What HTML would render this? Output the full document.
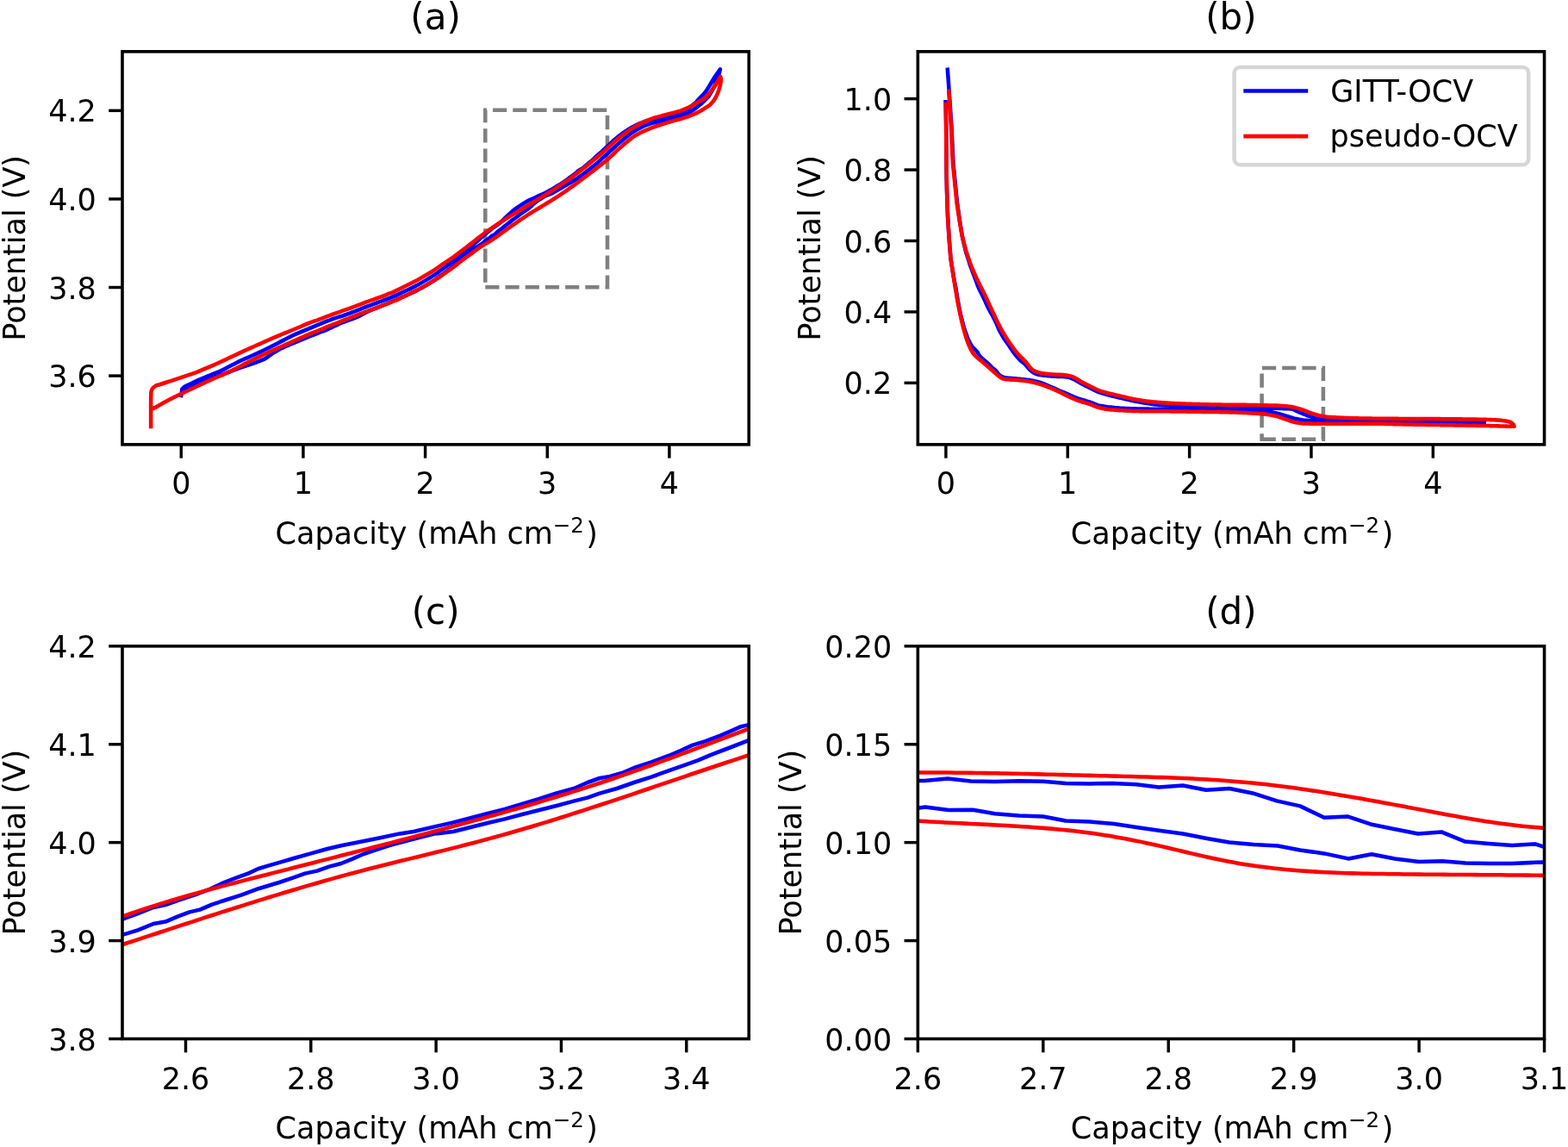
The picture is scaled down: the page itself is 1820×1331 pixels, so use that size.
<!DOCTYPE html>
<html lang="en"><head><meta charset="utf-8"><title>GITT-OCV vs pseudo-OCV</title>
<style>html,body{margin:0;padding:0;background:#fff;}body{width:1820px;height:1331px;overflow:hidden;}svg{display:block;}text{font-family:'DejaVu Sans', 'Liberation Sans', sans-serif;fill:#000;}</style>
</head><body>
<svg width="1820" height="1331" viewBox="0 0 1820 1331">
<rect x="0" y="0" width="1820" height="1331" fill="#ffffff"/>
<defs>
<clipPath id="clip-a"><rect x="142" y="59.85" width="727.25" height="456"/></clipPath>
<clipPath id="clip-b"><rect x="1065.35" y="59.85" width="727.2" height="456"/></clipPath>
<clipPath id="clip-c"><rect x="142" y="749.8" width="727.25" height="455.7"/></clipPath>
<clipPath id="clip-d"><rect x="1065.35" y="749.8" width="727.2" height="455.7"/></clipPath>
</defs>
<g clip-path="url(#clip-a)">
<path d="M563.3,333.3 L705,333.3 L705,127.75 L563.3,127.75 Z" fill="none" stroke="#808080" stroke-width="4.55" stroke-dasharray="16.2,7" stroke-linejoin="miter"/>
<polyline points="209.7,461.2 210.6,458 211,454 211.3,451.6 212.6,450.3 214.5,448.5 217.5,447.12 220.5,445.72 223.5,444.28 226.5,442.84 229.5,441.43 232.5,440.07 235.5,438.77 238.5,437.5 241.5,436.23 244.5,434.98 247.5,433.8 250.5,432.73 253.5,431.65 256.5,430.33 259.5,428.79 262.5,427.18 265.5,425.59 268.5,424.01 271.5,422.45 274.5,420.9 277.5,419.4 280.5,417.97 283.5,416.66 286.5,415.39 289.5,414.12 292.5,412.79 295.5,411.43 298.5,410.05 301.5,408.66 304.5,407.25 307.5,405.78 310.5,404.25 313.5,402.71 316.5,401.2 319.5,399.68 322.5,398.16 325.5,396.64 328.5,395.13 331.5,393.58 334.5,392.01 337.5,390.46 340.5,388.99 343.5,387.64 346.5,386.38 349.5,385.14 352.5,383.9 355.5,382.67 358.5,381.43 361.5,380.2 364.5,378.96 367.5,377.71 370.5,376.45 373.5,375.19 376.5,373.94 379.5,372.73 382.5,371.56 385.5,370.46 388.5,369.43 391.5,368.46 394.5,367.51 397.5,366.54 400.5,365.52 403.5,364.45 406.5,363.32 409.5,362.18 412.5,361.03 415.5,359.86 418.5,358.65 421.5,357.42 424.5,356.24 427.5,355.14 430.5,354.07 433.5,352.97 436.5,351.85 439.5,350.71 442.5,349.57 445.5,348.42 448.5,347.26 451.5,346.09 454.5,344.9 457.5,343.64 460.5,342.31 463.5,340.93 466.5,339.55 469.5,338.15 472.5,336.75 475.5,335.34 478.5,333.9 481.5,332.39 484.5,330.8 487.5,329.12 490.5,327.39 493.5,325.63 496.5,323.86 499.5,322.06 502.5,320.17 505.5,318.14 508.5,315.98 511.5,313.77 514.5,311.54 517.5,309.31 520.5,307.09 523.5,304.87 526.5,302.61 529.5,300.26 532.5,297.83 535.5,295.4 538.5,292.98 541.5,290.5 544.5,288.02 547.5,285.59 550.5,283.11 553.5,280.41 556.5,277.52 559.5,274.73 562.5,272.17 565.5,269.78 568.5,267.46 571.5,264.74 574.5,263.1 577.5,260.67 580.5,258.37 583.5,255.79 586.5,252.64 589.5,249.81 592.5,247.3 595.5,244.29 598.5,242.25 601.5,240.22 604.5,238.22 607.5,236.28 610.5,234.34 613.5,232.68 616.5,231.32 619.5,229.98 622.5,228.58 625.5,227.08 628.5,225.81 631.5,224.51 634.5,222.89 637.5,221.31 640.5,219.64 643.5,217.83 646.5,216.03 649.5,214.29 652.5,212.36 655.5,210.29 658.5,208.21 661.5,205.93 664.5,203.92 667.5,201.63 670.5,198.78 673.5,196.85 676.5,195.17 679.5,192.47 682.5,190.06 685.5,187.63 688.5,184.98 691.5,181.95 694.5,179.21 697.5,176.88 700.5,173.97 703.5,171.22 706.5,168.4 709.5,165.55 712.5,162.8 715.5,160.26 718.5,157.89 721.5,155.62 724.5,153.45 727.5,151.39 730.5,149.49 733.5,147.76 736.5,146.15 739.5,144.67 742.5,143.3 745.5,142.06 748.5,140.93 751.5,139.9 754.5,138.98 757.5,138.18 760.5,137.49 763.5,136.95 766.5,136.39 769.5,135.8 772.5,135.17 775.5,134.51 778.5,133.79 781.5,133.03 784.5,132.24 787.5,131.39 790.5,130.42 793.5,129.01 796.5,127.28 799.5,125.29 802.5,123.1 805.5,120.73 808.5,118.11 813.14,112.82 816.45,109.62 819.75,105.42 823.06,100.25 826.36,94.76 829.67,89.27 833,84.5 835.95,80.3 835.95,80.3 834.9,84.71 833.4,89.46 831.4,95.06 829,100.49 826,106.16 822.6,111.87 820,114.48 817,117.53 814,120.26 811,122.82 808,125.16 805,127.3 802,129.31 799,131.16 796,132.82 793,134.21 790,135.33 787,136.14 784,136.88 781,137.59 778,138.29 775,139.02 772,139.73 769,140.39 766,140.99 763,141.57 760,142.16 757,142.83 754,143.73 751,144.79 748,146.02 745,147.39 742,148.91 739,150.62 736,152.48 733,154.46 730,156.58 727,158.91 724,161.45 721,164.04 718,166.65 715,169.29 712,171.96 709,174.7 706,177.46 703,180.2 700,182.89 697,185.58 694,188.45 691,190.91 688,193.34 685,195.83 682,198.14 679,200.43 676,202.83 673,204.77 670,207.11 667,208.96 664,210.8 661,212.6 658,214.34 655,216.07 652,217.93 649,219.63 646,221.26 643,223 640,224.73 637,225.81 634,226.89 631,228.65 628,230.49 625,232.26 622,234.54 619,236.82 616,239.84 613,242.35 610,244.38 607,246.42 604,248.43 601,250.82 598,253 595,255.09 592,257.66 589,259.97 586,262.21 583,264.84 580,267 577,269.4 574,272.33 571,273.67 568,276.39 565,278.67 562,280.89 559,283.01 556,285.05 553,287.13 550,289.36 547,291.69 544,294.59 541,296.32 538,298.63 535,301.07 532,303.71 529,306.39 526,308.89 523,311.23 520,313.49 517,315.73 514,317.96 511,320.19 508,322.4 505,324.54 502,326.55 499,328.42 496,330.21 493,331.95 490,333.68 487,335.36 484,336.97 481,338.49 478,339.91 475,341.26 472,342.61 469,343.92 466,345.2 463,346.47 460,347.73 457,349 454,350.26 451,351.53 448,352.8 445,354.05 442,355.3 439,356.54 436,357.78 433,358.94 430,360.16 427,361.47 424,362.97 421,364.58 418,366.19 415,367.66 412,368.91 409,370.02 406,371.12 403,372.22 400,373.33 397,374.45 394,375.69 391,377.15 388,378.49 385,379.85 382,381.17 379,382.87 376,383.96 373,384.87 370,386.1 367,387.33 364,388.56 361,389.69 358,390.92 355,392.16 352,393.41 349,394.66 346,395.91 343,397.16 340,398.4 337,399.65 334,400.9 331,402.16 328,403.58 325,405.09 322,406.69 319,408.44 316,410.3 313,412.53 310,414.73 307,416.6 304,417.9 301,419.12 298,420.23 295,421.26 292,422.28 289,423.27 286,424.23 283,425.29 280,426.37 277,427.44 274,428.55 271,429.7 268,430.87 265,432.03 262,433.18 259,434.34 256,435.52 253,436.63 250,437.72 247,438.85 244,440.05 241,441.29 238,442.58 235,443.9 232,445.26 229,446.71 226,448.08 223,449.47 220,450.66 217,452 214,454 211.2,455.5" fill="none" stroke="#0000ff" stroke-width="4.55" stroke-linejoin="round" stroke-linecap="butt"/>
<polyline points="175.15,497.3 175.15,470 175.15,461.75 175.4,455.1 176.2,452.2 178.2,449.5 181.5,447.2 184.5,446.59 187.5,445.51 190.5,444.5 193.5,443.52 196.5,442.56 199.5,441.63 202.5,440.62 205.5,439.62 208.5,438.62 211.5,437.63 214.5,436.64 217.5,435.65 220.5,434.64 223.5,433.61 226.5,432.53 229.5,431.41 232.5,430.18 235.5,428.92 238.5,427.65 241.5,426.38 244.5,425.09 247.5,423.8 250.5,422.48 253.5,421.14 256.5,419.76 259.5,418.34 262.5,416.95 265.5,415.55 268.5,414.15 271.5,412.74 274.5,411.32 277.5,409.9 280.5,408.48 283.5,407.09 286.5,405.74 289.5,404.42 292.5,403.09 295.5,401.75 298.5,400.4 301.5,399.07 304.5,397.73 307.5,396.38 310.5,395.03 313.5,393.71 316.5,392.43 319.5,391.18 322.5,389.94 325.5,388.7 328.5,387.45 331.5,386.21 334.5,384.98 337.5,383.74 340.5,382.51 343.5,381.27 346.5,380.01 349.5,378.72 352.5,377.43 355.5,376.15 358.5,374.92 361.5,373.75 364.5,372.63 367.5,371.83 370.5,370.69 373.5,369.55 376.5,368.41 379.5,367.19 382.5,366.11 385.5,365 388.5,363.94 391.5,362.85 394.5,361.77 397.5,360.69 400.5,359.7 403.5,358.63 406.5,357.53 409.5,356.42 412.5,355.3 415.5,354.18 418.5,353.03 421.5,351.87 424.5,350.71 427.5,349.69 430.5,348.59 433.5,347.58 436.5,346.52 439.5,345.45 442.5,344.36 445.5,343.26 448.5,342.13 451.5,340.58 454.5,339.7 457.5,338.35 460.5,336.93 463.5,335.46 466.5,333.96 469.5,332.46 472.5,330.95 475.5,329.44 478.5,327.96 481.5,326.47 484.5,324.91 487.5,323.28 490.5,321.58 493.5,319.83 496.5,318.05 499.5,316.22 502.5,314.32 505.5,312.34 508.5,310.3 511.5,308.24 514.5,306.2 517.5,304.18 520.5,302.17 523.5,300.15 526.5,298.09 529.5,295.93 532.5,293.65 535.5,291.33 538.5,289.02 541.5,286.73 544.5,284.43 547.5,282.12 550.5,279.78 553.5,277.4 556.5,275.02 559.5,272.7 562.5,270.48 565.5,268.33 568.5,266.24 571.5,264.2 574.5,262.18 577.5,260.2 580.5,258.25 583.5,256.32 586.5,254.42 589.5,252.54 592.5,250.67 595.5,248.82 598.5,246.98 601.5,245.15 604.5,243.32 607.5,241.5 610.5,239.69 613.5,237.87 616.5,236.06 619.5,234.25 622.5,232.43 625.5,230.61 628.5,228.78 631.5,226.94 634.5,225.09 637.5,223.21 640.5,221.32 643.5,219.41 646.5,217.46 649.5,215.49 652.5,213.48 655.5,211.44 658.5,209.36 661.5,207.23 664.5,205.07 667.5,202.87 670.5,200.62 673.5,198.33 676.5,196.01 679.5,193.64 682.5,191.25 685.5,188.82 688.5,186.35 691.5,183.86 694.5,181.34 697.5,178.77 700.5,176.14 703.5,173.45 706.5,170.69 709.5,167.89 712.5,165.15 715.5,162.52 718.5,160.04 721.5,157.67 724.5,155.4 727.5,153.22 730.5,151.14 733.5,149.18 736.5,147.34 739.5,145.62 742.5,144.02 745.5,142.53 748.5,141.13 751.5,139.82 754.5,138.6 757.5,137.48 760.5,136.46 763.5,135.63 766.5,134.84 769.5,134.08 772.5,133.31 775.5,132.55 778.5,131.78 781.5,130.98 784.5,130.16 787.5,129.3 790.5,128.35 793.5,127.16 796.5,125.86 799.5,124.45 802.5,122.93 805.5,121.31 808.5,119.6 811.5,117.71 816.45,114.96 819.75,112.11 823.06,108.62 826.36,104.46 829.67,99.96 832.98,94.73 835.2,90.87 836.3,89 836.9,91.5 836.7,95.14 835.6,100.43 833.97,105.98 831.65,111.46 829,115.93 827,118.52 823.5,122.23 820,124.36 817,126.35 814,128.21 811,129.89 808,131.35 805,132.7 802,133.92 799,135.05 796,136.14 793,137.11 790,138.01 787,138.79 784,139.57 781,140.37 778,141.2 775,142.08 772,143.04 769,144.05 766,145.09 763,146.12 760,147.14 757,148.17 754,149.32 751,150.55 748,151.85 745,153.26 742,154.78 739,156.43 736,158.26 733,160.36 730,162.71 727,165.2 724,167.77 721,170.39 718,173.09 715,175.89 712,178.77 709,181.64 706,184.36 703,186.91 700,189.34 697,191.7 694,194.03 691,196.35 688,198.67 685,200.97 682,203.26 679,205.54 676,207.79 673,210.03 670,212.24 667,214.43 664,216.59 661,218.71 658,220.81 655,222.87 652,224.89 649,226.88 646,228.83 643,230.74 640,232.62 637,234.47 634,236.3 631,238.11 628,239.93 625,241.74 622,243.57 619,245.42 616,247.29 613,249.2 610,251.13 607,253.11 604,255.12 601,257.17 598,259.26 595,261.37 592,263.51 589,265.67 586,267.84 583,270.01 580,272.18 577,274.32 574,276.41 571,278.43 568,280.34 565,282.15 562,283.88 559,285.71 556,287.74 553,289.93 550,292.16 547,294.35 544,296.53 541,298.71 538,300.91 535,303.18 532,305.5 529,307.83 526,310.12 523,312.35 520,314.52 517,316.64 514,318.72 511,320.76 508,322.75 505,324.69 502,326.57 499,328.39 496,330.17 493,331.89 490,333.56 487,335.16 484,336.67 481,338.14 478,339.6 475,341.05 472,342.5 469,343.95 466,345.39 463,346.86 460,348.34 457,349.47 454,350.73 451,351.92 448,353.16 445,354.23 442,355.3 439,356.38 436,357.47 433,358.56 430,359.73 427,360.85 424,361.92 421,363.07 418,364.22 415,365.37 412,366.52 409,367.68 406,368.84 403,370 400,371.19 397,372.42 394,373.61 391,374.8 388,376 385,377.11 382,378.27 379,379.45 376,380.87 373,382.1 370,383.34 367,384.58 364,385.56 361,386.81 358,388.09 355,389.39 352,390.71 349,392.04 346,393.38 343,394.74 340,396.11 337,397.47 334,398.82 331,400.16 328,401.49 325,402.83 322,404.16 319,405.49 316,406.84 313,408.19 310,409.57 307,410.97 304,412.39 301,413.83 298,415.29 295,416.77 292,418.27 289,419.78 286,421.32 283,422.88 280,424.46 277,426.04 274,427.58 271,429.06 268,430.48 265,431.86 262,433.22 259,434.56 256,435.88 253,437.18 250,438.48 247,439.79 244,441.13 241,442.48 238,443.85 235,445.22 232,446.61 229,448.02 226,449.44 223,450.87 220,452.31 217,453.76 214,455.19 211,456.58 208,458 205,459.47 202,460.97 199,462.52 196,464.09 193,465.7 190,467.34 187,469 184,470.72 181,472.53 178.2,473.65 175.6,475.1" fill="none" stroke="#ff0000" stroke-width="4.55" stroke-linejoin="round" stroke-linecap="butt"/>
</g>
<line x1="210.3" y1="515.85" x2="210.3" y2="531.65" stroke="#000" stroke-width="3.45"/>
<text x="210.3" y="573.45" font-size="35" text-anchor="middle">0</text>
<line x1="351.95" y1="515.85" x2="351.95" y2="531.65" stroke="#000" stroke-width="3.45"/>
<text x="351.95" y="573.45" font-size="35" text-anchor="middle">1</text>
<line x1="493.6" y1="515.85" x2="493.6" y2="531.65" stroke="#000" stroke-width="3.45"/>
<text x="493.6" y="573.45" font-size="35" text-anchor="middle">2</text>
<line x1="635.25" y1="515.85" x2="635.25" y2="531.65" stroke="#000" stroke-width="3.45"/>
<text x="635.25" y="573.45" font-size="35" text-anchor="middle">3</text>
<line x1="776.9" y1="515.85" x2="776.9" y2="531.65" stroke="#000" stroke-width="3.45"/>
<text x="776.9" y="573.45" font-size="35" text-anchor="middle">4</text>
<line x1="126.2" y1="436.09" x2="142" y2="436.09" stroke="#000" stroke-width="3.45"/>
<text x="111.9" y="449.14" font-size="35" text-anchor="end">3.6</text>
<line x1="126.2" y1="333.51" x2="142" y2="333.51" stroke="#000" stroke-width="3.45"/>
<text x="111.9" y="346.56" font-size="35" text-anchor="end">3.8</text>
<line x1="126.2" y1="230.93" x2="142" y2="230.93" stroke="#000" stroke-width="3.45"/>
<text x="111.9" y="243.98" font-size="35" text-anchor="end">4.0</text>
<line x1="126.2" y1="128.35" x2="142" y2="128.35" stroke="#000" stroke-width="3.45"/>
<text x="111.9" y="141.4" font-size="35" text-anchor="end">4.2</text>
<rect x="142" y="59.85" width="727.25" height="456" fill="none" stroke="#000" stroke-width="3.6"/>
<text x="505.62" y="33.9" font-size="42" text-anchor="middle">(a)</text>
<text x="506.77" y="631.3" font-size="35" text-anchor="middle">Capacity (mAh cm<tspan font-size="24.5" dy="-13.4" dx="-0.3">−2</tspan><tspan dy="13.4" dx="2.6">)</tspan></text>
<text transform="translate(28.9,287.85) rotate(-90)" font-size="35" text-anchor="middle">Potential (V)</text>
<g clip-path="url(#clip-b)">
<path d="M1464.6,509.8 L1535.9,509.8 L1535.9,427 L1464.6,427 Z" fill="none" stroke="#808080" stroke-width="4.55" stroke-dasharray="16.2,7" stroke-linejoin="miter"/>
<polyline points="1097.5,116 1097.54,117.89 1097.58,119.78 1097.62,121.67 1097.66,123.56 1097.69,125.44 1097.73,127.33 1097.77,129.22 1097.81,131.11 1097.85,133 1097.89,134.89 1097.93,136.78 1097.97,138.67 1098.01,140.56 1098.04,142.44 1098.08,144.33 1098.12,146.22 1098.16,148.11 1098.19,150.01 1098.21,151.96 1098.23,153.91 1098.24,155.86 1098.25,157.82 1098.27,159.77 1098.28,161.73 1098.3,163.68 1098.31,165.64 1098.32,167.59 1098.34,169.55 1098.35,171.5 1098.36,173.45 1098.38,175.41 1098.39,177.36 1098.4,179.32 1098.42,181.27 1098.43,183.23 1098.45,185.18 1098.46,187.14 1098.47,189.09 1098.49,191.05 1098.5,192.99 1098.54,194.93 1098.57,196.86 1098.61,198.79 1098.64,200.71 1098.68,202.64 1098.71,204.57 1098.75,206.5 1098.79,208.43 1098.82,210.36 1098.86,212.29 1098.89,214.21 1098.93,216.14 1098.96,218.07 1099.01,219.99 1099.06,221.87 1099.12,223.75 1099.19,225.62 1099.25,227.5 1099.31,229.37 1099.38,231.25 1099.44,233.12 1099.5,235 1099.56,236.87 1099.62,238.75 1099.69,240.62 1099.75,242.5 1099.81,244.37 1099.87,246.25 1099.94,248.13 1100.01,250.01 1100.12,251.92 1100.23,253.85 1100.35,255.77 1100.46,257.69 1100.58,259.62 1100.69,261.54 1100.81,263.46 1100.92,265.38 1101.04,267.31 1101.15,269.23 1101.27,271.15 1101.38,273.08 1101.51,275 1101.65,276.92 1101.81,278.85 1101.96,280.77 1102.12,282.69 1102.27,284.62 1102.42,286.54 1102.58,288.46 1102.73,290.38 1102.88,292.31 1103.04,294.23 1103.19,296.15 1103.35,298.08 1103.53,300 1103.81,301.92 1104.12,303.83 1104.42,305.75 1104.73,307.67 1105.04,309.58 1105.35,311.5 1105.66,313.42 1105.97,315.33 1106.28,317.25 1106.58,319.17 1106.89,321.08 1107.2,322.95 1107.53,324.71 1107.86,326.43 1108.19,328.14 1108.51,329.86 1108.84,331.57 1109.17,333.29 1109.5,335.04 1109.81,336.88 1110.12,338.75 1110.44,340.62 1110.75,342.5 1111.06,344.38 1111.37,346.25 1111.69,348.12 1112.01,350 1112.38,351.88 1112.75,353.75 1113.12,355.62 1113.5,357.5 1113.87,359.37 1114.25,361.25 1114.63,363.12 1115.02,365 1115.48,366.87 1115.95,368.75 1116.42,370.62 1116.9,372.5 1117.38,374.37 1117.85,376.25 1118.33,378.12 1118.83,379.96 1119.4,381.71 1120,383.43 1120.6,385.14 1121.2,386.86 1121.8,388.57 1122.4,390.28 1123.01,391.91 1123.67,393.33 1124.33,394.67 1125.02,396.04 1125.75,397.5 1126.5,399 1127.26,400.5 1128.13,401.96 1129.34,403.33 1130.66,404.66 1131.93,405.93 1133,407 1134,408 1134.89,409.11 1135.5,410.5 1136.19,411.96 1137.34,413.33 1138.67,414.67 1140.04,415.98 1141.5,417.25 1143,418.5 1144.5,419.75 1145.93,420.99 1147.2,422.2 1148.4,423.4 1149.59,424.61 1150.77,425.83 1151.97,426.99 1153.22,427.96 1154.49,428.87 1155.69,429.88 1156.74,431.16 1157.74,432.53 1158.76,433.89 1159.88,435.12 1161.2,436 1162.55,436.73 1163.81,437.37 1165.18,437.91 1166.75,438.27 1168.41,438.47 1170.08,438.65 1171.77,438.81 1173.46,438.96 1175.13,439.1 1176.8,439.24 1178.47,439.39 1180.13,439.53 1181.79,439.68 1183.44,439.84 1185.11,440.01 1186.77,440.18 1188.44,440.34 1190.1,440.51 1191.74,440.7 1193.37,440.9 1195.03,441.12 1196.69,441.39 1198.36,441.72 1200.02,442.06 1201.65,442.4 1203.28,442.76 1204.93,443.15 1206.59,443.65 1208.27,444.26 1209.95,444.88 1211.6,445.5 1213.24,446.15 1214.91,446.82 1216.58,447.51 1218.25,448.24 1219.93,448.97 1221.6,449.7 1223.28,450.42 1224.93,451.15 1226.42,451.83 1227.76,452.48 1229.11,453.15 1230.6,453.8 1232.22,454.44 1233.85,455.09 1235.49,455.73 1237.13,456.38 1238.76,457.03 1240.43,457.74 1242.11,458.5 1243.77,459.25 1245.44,460 1247.11,460.75 1248.75,461.48 1250.25,462.07 1251.71,462.55 1253.47,463.09 1255.34,463.65 1257.21,464.21 1259.09,464.78 1260.96,465.34 1262.83,465.9 1264.65,466.47 1266.32,467.09 1267.97,467.74 1269.64,468.41 1271.3,469.07 1272.97,469.74 1274.67,470.34 1276.43,470.76 1278.12,471.06 1279.78,471.33 1281.45,471.61 1283.1,471.88 1284.7,472.12 1286.14,472.3 1287.75,472.46 1289.59,472.63 1291.47,472.81 1293.35,472.99 1295.22,473.16 1297.1,473.34 1298.98,473.51 1300.86,473.65 1302.75,473.74 1304.63,473.83 1306.5,473.93 1308.38,474.02 1310.25,474.11 1312.13,474.2 1314,474.29 1315.9,474.35 1317.79,474.39 1319.67,474.42 1321.55,474.46 1323.42,474.49 1325.3,474.53 1327.17,474.56 1329.05,474.59 1330.9,474.62 1332.73,474.64 1334.55,474.66 1336.36,474.68 1338.18,474.7 1340,474.71 1341.82,474.73 1343.64,474.75 1345.45,474.77 1347.27,474.79 1349.09,474.81 1350.9,474.83 1352.71,474.85 1354.53,474.87 1356.35,474.89 1358.17,474.91 1359.98,474.93 1361.8,474.96 1363.62,474.98 1365.44,475 1367.26,475.02 1369.08,475.04 1370.95,475.07 1372.87,475.1 1374.8,475.14 1376.73,475.17 1378.65,475.21 1380.58,475.24 1382.5,475.27 1384.43,475.31 1386.35,475.34 1388.28,475.38 1390.21,475.41 1392.14,475.45 1394.06,475.48 1395.99,475.51 1397.91,475.55 1399.84,475.58 1401.77,475.61 1403.69,475.64 1405.62,475.68 1407.54,475.71 1409.47,475.74 1411.4,475.78 1413.32,475.81 1415.25,475.84 1417.17,475.88 1419.1,475.91 1421.02,475.95 1422.91,475.99 1424.79,476.03 1426.66,476.02 1428.54,475.98 1430.42,475.93 1432.3,475.89 1434.18,475.85 1436.06,475.8 1437.93,475.77 1439.81,475.75 1441.69,475.79 1443.56,475.86 1445.44,475.94 1447.31,476.01 1449.19,476.09 1451.06,476.17 1452.91,476.26 1454.73,476.38 1456.55,476.5 1458.36,476.61 1460.18,476.73 1462,476.85 1463.82,476.97 1465.64,477.09 1467.45,477.2 1469.27,477.32 1471.08,477.45 1472.82,477.68 1474.5,478 1476.17,478.33 1477.83,478.67 1479.5,479 1481.17,479.34 1482.83,479.76 1484.5,480.25 1486.17,480.75 1487.83,481.25 1489.5,481.75 1491.17,482.25 1492.83,482.75 1494.5,483.25 1496.17,483.75 1497.83,484.25 1499.5,484.75 1501.17,485.24 1502.83,485.66 1504.5,486 1506.17,486.33 1507.83,486.67 1509.5,487 1511.18,487.32 1512.95,487.55 1514.81,487.69 1516.69,487.81 1518.56,487.94 1520.44,488.06 1522.31,488.19 1524.19,488.31 1526.06,488.43 1527.94,488.49 1529.81,488.5 1531.69,488.5 1533.56,488.5 1535.44,488.5 1537.31,488.5 1539.19,488.5 1541.07,488.5 1542.97,488.51 1544.91,488.51 1546.84,488.52 1548.78,488.53 1550.72,488.54 1552.66,488.55 1554.59,488.56 1556.53,488.57 1558.47,488.58 1560.41,488.59 1562.34,488.6 1564.28,488.61 1566.22,488.62 1568.16,488.63 1570.09,488.64 1572.03,488.65 1573.97,488.65 1575.91,488.66 1577.84,488.67 1579.78,488.68 1581.72,488.69 1583.66,488.7 1585.59,488.71 1587.53,488.72 1589.47,488.73 1591.41,488.74 1593.34,488.75 1595.28,488.76 1597.22,488.77 1599.16,488.78 1601.09,488.79 1603.03,488.8 1604.95,488.82 1606.86,488.86 1608.76,488.91 1610.67,488.95 1612.57,488.99 1614.48,489.04 1616.38,489.08 1618.29,489.12 1620.19,489.16 1622.1,489.21 1624,489.25 1625.9,489.29 1627.81,489.34 1629.71,489.38 1631.62,489.42 1633.52,489.46 1635.43,489.51 1637.33,489.55 1639.24,489.59 1641.14,489.64 1643.05,489.68 1644.95,489.7 1646.86,489.71 1648.76,489.72 1650.67,489.73 1652.57,489.74 1654.48,489.75 1656.38,489.76 1658.29,489.77 1660.19,489.78 1662.1,489.79 1664,489.8 1665.9,489.81 1667.81,489.82 1669.71,489.83 1671.62,489.84 1673.52,489.85 1675.43,489.86 1677.33,489.87 1679.24,489.88 1681.14,489.89 1683.05,489.9 1684.98,489.91 1686.93,489.92 1688.88,489.94 1690.83,489.95 1692.79,489.96 1694.74,489.98 1696.69,489.99 1698.64,490.01 1700.6,490.02 1702.55,490.04 1704.5,490.05 1706.45,490.06 1708.4,490.08 1710.36,490.09 1712.31,490.11 1714.26,490.12 1716.21,490.14 1718.17,490.15 1720.12,490.16 1722.07,490.18 1724.02,490.19 1725,490.2" fill="none" stroke="#0000ff" stroke-width="4.55" stroke-linejoin="round" stroke-linecap="butt"/>
<polyline points="1099.7,78.5 1099.84,80.42 1099.98,82.35 1100.12,84.27 1100.25,86.19 1100.39,88.12 1100.53,90.04 1100.67,91.96 1100.81,93.88 1100.95,95.81 1101.08,97.73 1101.22,99.65 1101.36,101.58 1101.5,103.5 1101.63,105.43 1101.76,107.37 1101.89,109.3 1102.02,111.24 1102.15,113.17 1102.28,115.11 1102.41,117.04 1102.54,118.98 1102.67,120.91 1102.8,122.85 1102.93,124.78 1103.07,126.72 1103.2,128.65 1103.33,130.59 1103.46,132.52 1103.59,134.46 1103.72,136.39 1103.85,138.33 1103.98,140.26 1104.11,142.2 1104.24,144.13 1104.37,146.06 1104.49,147.99 1104.59,149.91 1104.68,151.82 1104.77,153.73 1104.86,155.64 1104.95,157.55 1105.05,159.45 1105.14,161.36 1105.23,163.27 1105.32,165.18 1105.41,167.09 1105.5,169 1105.59,170.91 1105.68,172.82 1105.77,174.73 1105.86,176.64 1105.95,178.55 1106.05,180.45 1106.14,182.36 1106.23,184.27 1106.32,186.18 1106.41,188.09 1106.52,189.98 1106.68,191.82 1106.86,193.64 1107.05,195.45 1107.23,197.27 1107.41,199.09 1107.59,200.91 1107.77,202.73 1107.95,204.55 1108.14,206.36 1108.32,208.18 1108.5,210.02 1108.69,211.92 1108.88,213.85 1109.08,215.77 1109.27,217.69 1109.46,219.62 1109.65,221.54 1109.85,223.46 1110.04,225.38 1110.23,227.31 1110.42,229.23 1110.62,231.15 1110.81,233.08 1111.01,234.98 1111.26,236.82 1111.51,238.64 1111.76,240.45 1112.02,242.27 1112.27,244.09 1112.53,245.91 1112.78,247.73 1113.04,249.55 1113.29,251.36 1113.55,253.18 1113.81,255 1114.09,256.82 1114.38,258.64 1114.67,260.45 1114.96,262.27 1115.25,264.09 1115.55,265.91 1115.84,267.73 1116.13,269.55 1116.42,271.36 1116.71,273.18 1117.03,275.02 1117.45,276.89 1117.89,278.78 1118.33,280.67 1118.78,282.56 1119.22,284.44 1119.67,286.33 1120.11,288.22 1120.56,290.11 1121.03,291.97 1121.57,293.77 1122.13,295.55 1122.7,297.32 1123.26,299.1 1123.83,300.87 1124.4,302.64 1124.97,304.42 1125.54,306.19 1126.12,307.95 1126.75,309.7 1127.4,311.43 1128.06,313.17 1128.72,314.91 1129.38,316.64 1130.04,318.38 1130.7,320.11 1131.36,321.86 1132.01,323.64 1132.67,325.45 1133.34,327.26 1134.02,329.06 1134.7,330.87 1135.39,332.66 1136.12,334.44 1136.94,336.17 1137.79,337.89 1138.65,339.6 1139.51,341.32 1140.37,343.03 1141.22,344.75 1142.05,346.46 1142.8,348.07 1143.52,349.64 1144.24,351.21 1144.95,352.78 1145.67,354.35 1146.39,355.92 1147.15,357.52 1148.05,359.18 1148.99,360.88 1149.93,362.57 1150.88,364.26 1151.82,365.96 1152.73,367.63 1153.54,369.25 1154.33,370.84 1155.12,372.44 1155.92,374.04 1156.69,375.63 1157.37,377.22 1158.02,378.79 1158.66,380.37 1159.31,381.93 1159.98,383.44 1160.78,384.94 1161.62,386.43 1162.47,387.92 1163.32,389.41 1164.17,390.9 1165.08,392.41 1166.15,393.98 1167.31,395.59 1168.49,397.21 1169.66,398.83 1170.8,400.45 1171.85,402.08 1172.87,403.69 1173.9,405.26 1174.92,406.71 1175.93,408.1 1176.93,409.48 1177.92,410.82 1178.97,412.16 1180.14,413.54 1181.35,414.92 1182.56,416.3 1183.76,417.65 1185.03,418.91 1186.53,420.04 1188.02,421.08 1189.26,422.04 1190.43,423.25 1191.63,424.75 1192.82,426.27 1194.03,427.71 1195.35,429.04 1196.78,430.31 1198.16,431.46 1199.58,432.47 1201.09,433.25 1202.59,433.79 1204.08,434.3 1205.5,434.75 1207.01,435.06 1208.65,435.26 1210.31,435.45 1211.97,435.64 1213.63,435.83 1215.27,436.01 1216.91,436.17 1218.57,436.31 1220.24,436.44 1221.9,436.57 1223.57,436.71 1225.21,436.83 1226.85,436.91 1228.52,436.95 1230.18,436.98 1231.85,437.02 1233.53,437.05 1235.26,437.12 1236.91,437.29 1238.43,437.55 1239.92,437.82 1241.43,438.11 1242.99,438.62 1244.57,439.32 1246.1,440.04 1247.65,440.83 1249.16,441.66 1250.56,442.49 1251.94,443.31 1253.33,444.13 1254.71,444.91 1256.21,445.7 1257.86,446.53 1259.53,447.36 1261.19,448.2 1262.86,449.03 1264.53,449.86 1266.19,450.7 1267.86,451.53 1269.53,452.36 1271.19,453.2 1272.85,454.02 1274.47,454.79 1276.09,455.41 1277.75,455.92 1279.41,456.42 1281.08,456.92 1282.75,457.42 1284.4,457.91 1286.15,458.36 1288.01,458.8 1289.89,459.24 1291.76,459.68 1293.64,460.12 1295.51,460.55 1297.39,460.99 1299.26,461.43 1301.14,461.87 1303.01,462.3 1304.89,462.74 1306.76,463.18 1308.64,463.62 1310.51,464.05 1312.38,464.49 1314.24,464.91 1316.09,465.3 1317.96,465.66 1319.84,466.02 1321.72,466.37 1323.6,466.73 1325.48,467.09 1327.35,467.44 1329.19,467.78 1330.93,468.07 1332.61,468.3 1334.28,468.52 1335.95,468.75 1337.62,468.97 1339.28,469.2 1340.95,469.39 1342.62,469.56 1344.27,469.72 1345.92,469.88 1347.58,470.03 1349.25,470.18 1350.92,470.3 1352.58,470.39 1354.25,470.48 1355.91,470.58 1357.58,470.67 1359.24,470.76 1361,470.82 1362.86,470.87 1364.73,470.92 1366.61,470.97 1368.48,471.02 1370.36,471.07 1372.23,471.12 1374.11,471.17 1375.98,471.22 1377.86,471.26 1379.72,471.31 1381.59,471.35 1383.46,471.39 1385.34,471.43 1387.21,471.48 1389.09,471.51 1390.97,471.55 1392.85,471.58 1394.73,471.61 1396.61,471.64 1398.5,471.67 1400.38,471.7 1402.25,471.73 1404.14,471.76 1406.02,471.78 1407.9,471.81 1409.78,471.84 1411.67,471.86 1413.55,471.89 1415.43,471.92 1417.31,471.94 1419.19,471.97 1421.07,472 1422.96,472.02 1424.86,472.07 1426.77,472.18 1428.67,472.32 1430.57,472.47 1432.48,472.62 1434.38,472.77 1436.29,472.93 1438.19,473.07 1440.1,473.19 1442,473.25 1443.9,473.27 1445.81,473.3 1447.71,473.32 1449.62,473.35 1451.52,473.37 1453.43,473.39 1455.33,473.42 1457.24,473.44 1459.14,473.46 1461.04,473.49 1462.9,473.51 1464.73,473.54 1466.55,473.57 1468.36,473.6 1470.18,473.62 1472,473.65 1473.82,473.68 1475.64,473.7 1477.45,473.73 1479.27,473.76 1481.09,473.79 1482.9,473.84 1484.7,473.91 1486.5,473.98 1488.3,474.04 1490.1,474.11 1491.9,474.19 1493.7,474.25 1495.5,474.32 1497.3,474.4 1499.1,474.51 1500.87,474.98 1502.62,475.81 1504.37,476.69 1506.12,477.55 1507.83,478.32 1509.5,479 1511.17,479.67 1512.83,480.33 1514.5,481 1516.17,481.66 1517.83,482.29 1519.5,482.87 1521.17,483.46 1522.83,484.04 1524.5,484.62 1526.18,485.19 1527.95,485.61 1529.81,485.87 1531.69,486.12 1533.56,486.37 1535.44,486.62 1537.31,486.87 1539.19,487.12 1541.07,487.36 1542.97,487.5 1544.91,487.55 1546.84,487.58 1548.78,487.61 1550.72,487.64 1552.66,487.67 1554.59,487.7 1556.53,487.73 1558.47,487.77 1560.41,487.8 1562.34,487.83 1564.28,487.86 1566.22,487.89 1568.16,487.92 1570.09,487.95 1572.03,487.98 1573.97,488.02 1575.91,488.05 1577.84,488.08 1579.78,488.11 1581.72,488.14 1583.66,488.17 1585.59,488.2 1587.53,488.23 1589.47,488.27 1591.41,488.3 1593.34,488.33 1595.28,488.36 1597.22,488.39 1599.16,488.42 1601.09,488.45 1603.03,488.48 1604.95,488.52 1606.86,488.55 1608.76,488.58 1610.67,488.62 1612.57,488.65 1614.48,488.68 1616.38,488.72 1618.29,488.75 1620.19,488.78 1622.1,488.82 1624,488.85 1625.9,488.88 1627.81,488.92 1629.71,488.95 1631.62,488.98 1633.52,489.02 1635.43,489.05 1637.33,489.08 1639.24,489.12 1641.14,489.15 1643.05,489.18 1644.95,489.21 1646.86,489.22 1648.76,489.24 1650.67,489.25 1652.57,489.26 1654.48,489.28 1656.38,489.29 1658.29,489.31 1660.19,489.32 1662.1,489.34 1664,489.35 1665.9,489.36 1667.81,489.38 1669.71,489.39 1671.62,489.41 1673.52,489.42 1675.43,489.44 1677.33,489.45 1679.24,489.46 1681.14,489.48 1683.05,489.49 1684.98,489.51 1686.93,489.54 1688.88,489.56 1690.83,489.58 1692.79,489.61 1694.74,489.63 1696.69,489.65 1698.64,489.68 1700.6,489.7 1702.55,489.73 1704.5,489.75 1706.45,489.77 1708.4,489.8 1710.36,489.82 1712.31,489.85 1714.26,489.87 1716.21,489.89 1718.17,489.92 1720.12,489.94 1722.07,489.96 1724.02,489.99 1725,490" fill="none" stroke="#0000ff" stroke-width="4.55" stroke-linejoin="round" stroke-linecap="butt"/>
<polyline points="1101.2,103.5 1101.32,105.48 1101.45,107.46 1101.57,109.43 1101.7,111.41 1101.82,113.39 1101.95,115.37 1102.07,117.34 1102.2,119.32 1102.32,121.3 1102.44,123.28 1102.57,125.26 1102.69,127.23 1102.82,129.21 1102.94,131.19 1103.07,133.17 1103.19,135.14 1103.32,137.12 1103.44,139.1 1103.56,141.08 1103.69,143.06 1103.81,145.03 1103.93,147 1104.04,148.97 1104.14,150.93 1104.23,152.88 1104.33,154.84 1104.42,156.79 1104.51,158.74 1104.6,160.7 1104.7,162.65 1104.79,164.6 1104.88,166.56 1104.98,168.51 1105.07,170.47 1105.16,172.42 1105.26,174.37 1105.35,176.33 1105.44,178.28 1105.53,180.23 1105.63,182.19 1105.72,184.14 1105.82,186.09 1105.92,188.04 1106.05,189.98 1106.2,191.9 1106.38,193.81 1106.57,195.71 1106.76,197.62 1106.95,199.52 1107.14,201.43 1107.33,203.33 1107.52,205.24 1107.71,207.14 1107.91,209.05 1108.1,210.97 1108.29,212.89 1108.48,214.81 1108.67,216.73 1108.87,218.65 1109.06,220.58 1109.25,222.5 1109.44,224.42 1109.63,226.35 1109.83,228.27 1110.02,230.19 1110.22,232.11 1110.43,234.03 1110.67,235.95 1110.93,237.86 1111.22,239.76 1111.5,241.67 1111.79,243.57 1112.07,245.48 1112.36,247.38 1112.64,249.29 1112.93,251.19 1113.22,253.1 1113.52,255 1113.84,256.9 1114.17,258.81 1114.5,260.71 1114.83,262.62 1115.17,264.52 1115.5,266.43 1115.83,268.33 1116.17,270.24 1116.51,272.14 1116.88,274.04 1117.3,275.94 1117.76,277.83 1118.25,279.72 1118.75,281.61 1119.25,283.5 1119.75,285.39 1120.25,287.28 1120.76,289.17 1121.29,291.05 1121.86,292.94 1122.48,294.82 1123.12,296.71 1123.76,298.59 1124.41,300.47 1125.06,302.35 1125.71,304.23 1126.37,306.1 1127.05,307.94 1127.76,309.73 1128.5,311.5 1129.25,313.25 1130,315 1130.75,316.75 1131.5,318.5 1132.26,320.24 1133.04,321.96 1133.85,323.65 1134.67,325.33 1135.5,327 1136.33,328.67 1137.17,330.34 1138.01,332.02 1138.86,333.72 1139.71,335.43 1140.57,337.14 1141.43,338.86 1142.28,340.57 1143.13,342.29 1143.97,344.01 1144.79,345.74 1145.6,347.47 1146.4,349.2 1147.2,350.93 1148,352.67 1148.8,354.4 1149.6,356.13 1150.4,357.87 1151.2,359.6 1152,361.33 1152.8,363.07 1153.6,364.8 1154.4,366.53 1155.21,368.26 1156.03,369.99 1156.87,371.71 1157.72,373.43 1158.57,375.14 1159.43,376.86 1160.29,378.57 1161.16,380.28 1162.07,381.98 1163.02,383.66 1164,385.33 1165,387 1166,388.67 1167.01,390.33 1168.04,391.99 1169.1,393.63 1170.18,395.27 1171.27,396.91 1172.37,398.54 1173.49,400.17 1174.63,401.79 1175.81,403.4 1177,405 1178.21,406.59 1179.44,408.16 1180.7,409.68 1182.01,411.16 1183.34,412.61 1184.68,414.03 1186.05,415.42 1187.44,416.76 1188.83,418.08 1190.17,419.42 1191.38,420.81 1192.47,422.26 1193.52,423.74 1194.59,425.2 1195.76,426.61 1197.05,427.94 1198.45,429.13 1199.99,430.11 1201.65,430.89 1203.38,431.53 1205.14,432.09 1206.93,432.54 1208.73,432.89 1210.55,433.18 1212.36,433.45 1214.18,433.71 1216,433.94 1217.82,434.13 1219.64,434.29 1221.45,434.44 1223.27,434.57 1225.09,434.7 1226.91,434.79 1228.73,434.85 1230.55,434.89 1232.36,434.94 1234.17,435.01 1235.97,435.17 1237.74,435.42 1239.5,435.77 1241.24,436.17 1242.96,436.64 1244.65,437.22 1246.32,437.89 1247.95,438.66 1249.54,439.55 1251.11,440.51 1252.67,441.49 1254.25,442.45 1255.86,443.37 1257.51,444.24 1259.17,445.08 1260.83,445.92 1262.5,446.75 1264.17,447.58 1265.83,448.42 1267.5,449.25 1269.17,450.08 1270.83,450.91 1272.51,451.73 1274.21,452.5 1275.95,453.19 1277.74,453.8 1279.55,454.36 1281.37,454.91 1283.19,455.44 1285.03,455.95 1286.88,456.42 1288.75,456.87 1290.63,457.31 1292.5,457.75 1294.38,458.19 1296.25,458.62 1298.12,459.06 1300,459.5 1301.87,459.94 1303.75,460.38 1305.62,460.81 1307.5,461.25 1309.38,461.69 1311.25,462.12 1313.12,462.54 1315,462.94 1316.88,463.29 1318.75,463.62 1320.62,463.94 1322.5,464.25 1324.38,464.56 1326.25,464.87 1328.12,465.17 1330,465.44 1331.88,465.67 1333.75,465.87 1335.62,466.06 1337.5,466.25 1339.38,466.44 1341.25,466.62 1343.12,466.8 1345,466.97 1346.88,467.12 1348.75,467.25 1350.62,467.37 1352.5,467.5 1354.38,467.62 1356.25,467.75 1358.13,467.87 1360.01,467.98 1361.91,468.07 1363.81,468.15 1365.71,468.23 1367.62,468.3 1369.52,468.38 1371.43,468.46 1373.33,468.53 1375.24,468.61 1377.14,468.68 1379.05,468.75 1380.95,468.82 1382.86,468.87 1384.76,468.92 1386.67,468.97 1388.57,469.01 1390.48,469.06 1392.38,469.11 1394.29,469.16 1396.19,469.2 1398.1,469.25 1400,469.29 1401.91,469.33 1403.83,469.37 1405.74,469.4 1407.65,469.44 1409.57,469.47 1411.48,469.51 1413.39,469.54 1415.3,469.58 1417.22,469.61 1419.13,469.65 1421.04,469.68 1422.95,469.7 1424.86,469.71 1426.76,469.72 1428.67,469.73 1430.57,469.74 1432.48,469.75 1434.38,469.76 1436.29,469.77 1438.19,469.78 1440.1,469.79 1442,469.81 1443.9,469.84 1445.81,469.88 1447.71,469.91 1449.62,469.95 1451.52,469.99 1453.43,470.03 1455.33,470.07 1457.24,470.1 1459.14,470.14 1461.05,470.18 1462.95,470.22 1464.86,470.26 1466.76,470.3 1468.67,470.33 1470.57,470.37 1472.48,470.41 1474.38,470.45 1476.29,470.49 1478.19,470.53 1480.08,470.57 1481.96,470.63 1483.81,470.72 1485.63,470.82 1487.45,470.93 1489.27,471.04 1491.09,471.18 1492.91,471.35 1494.73,471.56 1496.55,471.79 1498.36,472.04 1500.18,472.31 1502,472.65 1503.82,473.09 1505.64,473.6 1507.45,474.14 1509.27,474.69 1511.09,475.28 1512.91,475.91 1514.73,476.6 1516.55,477.32 1518.36,478.04 1520.18,478.75 1522,479.41 1523.82,480.02 1525.64,480.59 1527.45,481.13 1529.27,481.66 1531.09,482.15 1532.91,482.56 1534.73,482.89 1536.55,483.18 1538.37,483.45 1540.19,483.7 1542.04,483.91 1543.92,484.07 1545.81,484.19 1547.71,484.29 1549.62,484.38 1551.52,484.48 1553.43,484.57 1555.33,484.67 1557.24,484.76 1559.14,484.85 1561.05,484.94 1562.95,485.01 1564.86,485.07 1566.76,485.12 1568.67,485.17 1570.57,485.21 1572.48,485.26 1574.38,485.31 1576.29,485.36 1578.19,485.4 1580.1,485.45 1582,485.49 1583.91,485.52 1585.83,485.55 1587.74,485.58 1589.65,485.6 1591.57,485.63 1593.48,485.66 1595.39,485.68 1597.3,485.71 1599.22,485.73 1601.13,485.76 1603.05,485.78 1604.99,485.8 1606.93,485.81 1608.88,485.82 1610.83,485.83 1612.78,485.84 1614.73,485.85 1616.68,485.86 1618.63,485.87 1620.59,485.88 1622.54,485.89 1624.49,485.9 1626.44,485.91 1628.39,485.92 1630.34,485.93 1632.29,485.94 1634.24,485.95 1636.2,485.96 1638.15,485.97 1640.1,485.98 1642.05,485.99 1644,486 1645.95,486.01 1647.9,486.02 1649.85,486.03 1651.8,486.04 1653.76,486.05 1655.71,486.06 1657.66,486.07 1659.61,486.08 1661.56,486.09 1663.51,486.1 1665.46,486.11 1667.41,486.12 1669.37,486.13 1671.32,486.14 1673.27,486.15 1675.22,486.16 1677.17,486.17 1679.12,486.18 1681.07,486.19 1683.01,486.2 1684.94,486.22 1686.85,486.24 1688.76,486.27 1690.67,486.3 1692.57,486.33 1694.48,486.36 1696.38,486.39 1698.29,486.41 1700.19,486.44 1702.1,486.47 1704,486.5 1705.9,486.53 1707.81,486.56 1709.71,486.59 1711.62,486.61 1713.52,486.64 1715.43,486.67 1717.33,486.7 1719.24,486.73 1721.14,486.76 1723.04,486.8 1724.93,486.86 1726.81,486.94 1728.69,487.02 1730.56,487.11 1732.44,487.19 1734.31,487.28 1736.18,487.37 1738.05,487.48 1739.89,487.62 1741.72,487.78 1743.54,487.96 1745.36,488.15 1747.17,488.37 1748.95,488.69 1750.7,489.13 1752.39,489.7 1754,490.41 1755.41,491.35 1756.5,492.57 1757.23,494.02 1757.5,494.8 1755.74,494.79 1753.97,494.77 1752.17,494.74 1750.36,494.69 1748.54,494.64 1746.72,494.58 1744.88,494.53 1743.02,494.48 1741.14,494.43 1739.24,494.38 1737.33,494.33 1735.43,494.29 1733.52,494.24 1731.62,494.19 1729.71,494.14 1727.81,494.1 1725.9,494.05 1724,494.01 1722.1,493.97 1720.19,493.94 1718.29,493.91 1716.38,493.89 1714.48,493.86 1712.57,493.83 1710.67,493.8 1708.76,493.77 1706.86,493.74 1704.95,493.71 1703.05,493.68 1701.14,493.64 1699.24,493.6 1697.33,493.57 1695.43,493.53 1693.52,493.49 1691.62,493.45 1689.71,493.41 1687.81,493.38 1685.9,493.34 1683.98,493.3 1682.04,493.27 1680.1,493.24 1678.15,493.21 1676.2,493.18 1674.24,493.15 1672.29,493.12 1670.34,493.1 1668.39,493.07 1666.44,493.04 1664.49,493.01 1662.54,492.98 1660.59,492.95 1658.63,492.92 1656.68,492.89 1654.73,492.86 1652.78,492.83 1650.83,492.8 1648.88,492.77 1646.93,492.74 1644.98,492.71 1643.02,492.67 1641.07,492.63 1639.12,492.59 1637.17,492.55 1635.22,492.5 1633.27,492.46 1631.32,492.41 1629.37,492.37 1627.41,492.33 1625.46,492.28 1623.51,492.24 1621.56,492.2 1619.61,492.15 1617.66,492.11 1615.71,492.06 1613.76,492.02 1611.8,491.98 1609.85,491.93 1607.9,491.89 1605.94,491.85 1603.98,491.82 1601.99,491.81 1600,491.8 1598,491.8 1596,491.8 1594,491.8 1592,491.8 1590,491.8 1588,491.8 1586,491.8 1584,491.8 1582,491.8 1580,491.8 1578,491.8 1576,491.8 1574,491.8 1572,491.8 1570,491.8 1568,491.8 1566,491.8 1564,491.8 1562,491.8 1560,491.8 1558,491.8 1556,491.8 1554,491.8 1552,491.8 1550,491.8 1548,491.8 1546,491.8 1544,491.8 1542,491.8 1540,491.8 1538,491.8 1536,491.8 1534.01,491.8 1532.05,491.79 1530.11,491.77 1528.19,491.74 1526.29,491.71 1524.38,491.69 1522.48,491.66 1520.57,491.63 1518.67,491.6 1516.76,491.57 1514.86,491.53 1512.98,491.45 1511.12,491.3 1509.28,491.07 1507.46,490.82 1505.64,490.54 1503.82,490.22 1502,489.82 1500.18,489.31 1498.36,488.72 1496.55,488.09 1494.73,487.45 1492.91,486.82 1491.09,486.18 1489.27,485.55 1487.45,484.91 1485.64,484.28 1483.82,483.68 1482,483.13 1480.18,482.68 1478.36,482.28 1476.55,481.91 1474.73,481.56 1472.91,481.23 1471.09,480.96 1469.27,480.74 1467.45,480.55 1465.63,480.37 1463.81,480.19 1461.96,480.03 1460.08,479.9 1458.19,479.77 1456.29,479.66 1454.38,479.54 1452.48,479.43 1450.57,479.31 1448.67,479.2 1446.76,479.09 1444.86,478.98 1442.95,478.87 1441.05,478.79 1439.14,478.72 1437.24,478.66 1435.33,478.6 1433.43,478.54 1431.52,478.49 1429.62,478.43 1427.71,478.37 1425.81,478.32 1423.9,478.26 1421.98,478.22 1420.06,478.18 1418.12,478.15 1416.18,478.13 1414.24,478.1 1412.3,478.08 1410.36,478.05 1408.42,478.03 1406.48,478.01 1404.55,477.98 1402.61,477.96 1400.67,477.93 1398.73,477.91 1396.79,477.88 1394.85,477.86 1392.91,477.84 1390.98,477.81 1389.06,477.78 1387.15,477.76 1385.24,477.73 1383.33,477.7 1381.43,477.67 1379.52,477.64 1377.62,477.61 1375.71,477.59 1373.81,477.56 1371.9,477.53 1370,477.5 1368.1,477.47 1366.19,477.44 1364.29,477.41 1362.38,477.39 1360.48,477.36 1358.57,477.33 1356.67,477.3 1354.76,477.27 1352.85,477.24 1350.93,477.22 1348.97,477.21 1346.99,477.2 1345,477.2 1343,477.2 1341,477.2 1339,477.2 1337,477.2 1335,477.2 1333.01,477.2 1331.04,477.19 1329.1,477.18 1327.2,477.16 1325.31,477.14 1323.44,477.11 1321.56,477.09 1319.69,477.06 1317.81,477.03 1315.94,476.99 1314.06,476.93 1312.19,476.85 1310.31,476.75 1308.44,476.65 1306.56,476.55 1304.69,476.45 1302.81,476.35 1300.94,476.24 1299.06,476.11 1297.19,475.97 1295.31,475.82 1293.44,475.67 1291.56,475.52 1289.69,475.37 1287.82,475.21 1285.95,475.02 1284.11,474.76 1282.28,474.44 1280.46,474.09 1278.64,473.72 1276.82,473.31 1275,472.82 1273.18,472.22 1271.36,471.54 1269.54,470.82 1267.72,470.1 1265.89,469.41 1264.05,468.77 1262.18,468.17 1260.31,467.6 1258.44,467.03 1256.56,466.47 1254.69,465.9 1252.82,465.33 1250.95,464.71 1249.11,464.02 1247.28,463.26 1245.46,462.45 1243.64,461.63 1241.83,460.81 1240.03,459.97 1238.26,459.12 1236.5,458.25 1234.75,457.37 1233,456.5 1231.25,455.63 1229.5,454.76 1227.76,453.91 1226.04,453.1 1224.34,452.36 1222.65,451.66 1220.93,450.97 1219.16,450.26 1217.36,449.54 1215.55,448.82 1213.73,448.1 1211.91,447.41 1210.09,446.78 1208.27,446.19 1206.45,445.64 1204.64,445.1 1202.82,444.57 1201,444.09 1199.18,443.66 1197.36,443.28 1195.55,442.91 1193.73,442.56 1191.91,442.23 1190.09,441.96 1188.27,441.74 1186.45,441.55 1184.64,441.37 1182.82,441.19 1181,441.04 1179.18,440.92 1177.36,440.82 1175.55,440.73 1173.73,440.63 1171.92,440.51 1170.12,440.35 1168.34,440.16 1166.57,439.92 1164.83,439.59 1163.17,439.05 1161.62,438.22 1160.16,437.18 1158.74,436.05 1157.36,434.87 1156.01,433.66 1154.66,432.44 1153.32,431.21 1151.94,429.98 1150.53,428.72 1149.09,427.45 1147.64,426.18 1146.18,424.92 1144.73,423.66 1143.27,422.43 1141.82,421.23 1140.36,420.05 1138.91,418.86 1137.47,417.68 1136.06,416.48 1134.68,415.27 1133.34,414.05 1132.03,412.81 1130.79,411.52 1129.68,410.13 1128.7,408.64 1127.79,407.1 1126.91,405.52 1126.08,403.87 1125.3,402.14 1124.55,400.36 1123.82,398.54 1123.1,396.72 1122.42,394.9 1121.79,393.05 1121.21,391.2 1120.67,389.33 1120.13,387.47 1119.6,385.6 1119.07,383.73 1118.55,381.87 1118.05,380 1117.58,378.12 1117.13,376.25 1116.69,374.37 1116.25,372.5 1115.81,370.62 1115.38,368.75 1114.95,366.88 1114.53,365 1114.13,363.12 1113.75,361.25 1113.38,359.38 1113,357.5 1112.63,355.62 1112.25,353.75 1111.88,351.87 1111.53,350 1111.2,348.12 1110.88,346.25 1110.56,344.38 1110.25,342.5 1109.94,340.63 1109.63,338.75 1109.31,336.88 1109,335.01 1108.69,333.16 1108.38,331.31 1108.08,329.46 1107.77,327.61 1107.46,325.76 1107.16,323.9 1106.86,322.02 1106.56,320.12 1106.27,318.21 1105.98,316.29 1105.69,314.38 1105.4,312.46 1105.1,310.54 1104.81,308.62 1104.52,306.71 1104.23,304.79 1103.95,302.87 1103.68,300.96 1103.46,299.04 1103.28,297.11 1103.12,295.19 1102.96,293.27 1102.81,291.35 1102.65,289.42 1102.5,287.5 1102.35,285.58 1102.19,283.65 1102.04,281.73 1101.88,279.81 1101.73,277.88 1101.59,275.96 1101.45,274.04 1101.33,272.12 1101.21,270.19 1101.1,268.27 1100.98,266.35 1100.87,264.42 1100.75,262.5 1100.63,260.58 1100.52,258.65 1100.4,256.73 1100.29,254.81 1100.18,252.88 1100.07,250.96 1099.98,249.03 1099.91,247.1 1099.84,245.16 1099.77,243.23 1099.71,241.29 1099.65,239.35 1099.58,237.42 1099.52,235.48 1099.45,233.55 1099.39,231.61 1099.32,229.68 1099.26,227.74 1099.19,225.81 1099.13,223.87 1099.07,221.94 1099.01,220 1098.97,218.07 1098.93,216.14 1098.89,214.21 1098.86,212.29 1098.82,210.36 1098.79,208.43 1098.75,206.5 1098.71,204.57 1098.68,202.64 1098.64,200.71 1098.61,198.79 1098.57,196.86 1098.54,194.92 1098.51,192.99 1098.49,191.04 1098.47,189.09 1098.46,187.14 1098.45,185.18 1098.43,183.23 1098.42,181.27 1098.4,179.32 1098.39,177.36 1098.38,175.41 1098.36,173.45 1098.35,171.5 1098.34,169.55 1098.32,167.59 1098.31,165.64 1098.3,163.68 1098.28,161.73 1098.27,159.77 1098.25,157.82 1098.24,155.86 1098.23,153.91 1098.21,151.95 1098.2,149.99 1098.19,148.03 1098.18,146.06 1098.16,144.09 1098.15,142.13 1098.14,140.16 1098.12,138.19 1098.11,136.22 1098.1,134.25 1098.09,132.28 1098.08,130.31 1098.06,128.34 1098.05,126.38 1098.04,124.41 1098.02,122.44 1098.01,120.47 1098,118.5" fill="none" stroke="#ff0000" stroke-width="4.55" stroke-linejoin="round" stroke-linecap="butt"/>
</g>
<line x1="1097.9" y1="515.85" x2="1097.9" y2="531.65" stroke="#000" stroke-width="3.45"/>
<text x="1097.9" y="573.45" font-size="35" text-anchor="middle">0</text>
<line x1="1239.26" y1="515.85" x2="1239.26" y2="531.65" stroke="#000" stroke-width="3.45"/>
<text x="1239.26" y="573.45" font-size="35" text-anchor="middle">1</text>
<line x1="1380.62" y1="515.85" x2="1380.62" y2="531.65" stroke="#000" stroke-width="3.45"/>
<text x="1380.62" y="573.45" font-size="35" text-anchor="middle">2</text>
<line x1="1521.98" y1="515.85" x2="1521.98" y2="531.65" stroke="#000" stroke-width="3.45"/>
<text x="1521.98" y="573.45" font-size="35" text-anchor="middle">3</text>
<line x1="1663.34" y1="515.85" x2="1663.34" y2="531.65" stroke="#000" stroke-width="3.45"/>
<text x="1663.34" y="573.45" font-size="35" text-anchor="middle">4</text>
<line x1="1049.55" y1="444.35" x2="1065.35" y2="444.35" stroke="#000" stroke-width="3.45"/>
<text x="1035.25" y="457.4" font-size="35" text-anchor="end">0.2</text>
<line x1="1049.55" y1="361.92" x2="1065.35" y2="361.92" stroke="#000" stroke-width="3.45"/>
<text x="1035.25" y="374.97" font-size="35" text-anchor="end">0.4</text>
<line x1="1049.55" y1="279.49" x2="1065.35" y2="279.49" stroke="#000" stroke-width="3.45"/>
<text x="1035.25" y="292.54" font-size="35" text-anchor="end">0.6</text>
<line x1="1049.55" y1="197.06" x2="1065.35" y2="197.06" stroke="#000" stroke-width="3.45"/>
<text x="1035.25" y="210.11" font-size="35" text-anchor="end">0.8</text>
<line x1="1049.55" y1="114.63" x2="1065.35" y2="114.63" stroke="#000" stroke-width="3.45"/>
<text x="1035.25" y="127.68" font-size="35" text-anchor="end">1.0</text>
<rect x="1065.35" y="59.85" width="727.2" height="456" fill="none" stroke="#000" stroke-width="3.6"/>
<text x="1428.95" y="33.9" font-size="42" text-anchor="middle">(b)</text>
<text x="1430.1" y="631.3" font-size="35" text-anchor="middle">Capacity (mAh cm<tspan font-size="24.5" dy="-13.4" dx="-0.3">−2</tspan><tspan dy="13.4" dx="2.6">)</tspan></text>
<text transform="translate(952.1,287.85) rotate(-90)" font-size="35" text-anchor="middle">Potential (V)</text>
<rect x="1432.6" y="77.9" width="341.6" height="113.4" rx="7" ry="7" fill="#ffffff" fill-opacity="0.8" stroke="#cccccc" stroke-opacity="0.8" stroke-width="4.55"/>
<line x1="1445.6" y1="105.5" x2="1516" y2="105.5" stroke="#0000ff" stroke-width="4.55" stroke-linecap="square"/>
<line x1="1445.6" y1="158.1" x2="1516" y2="158.1" stroke="#ff0000" stroke-width="4.55" stroke-linecap="square"/>
<text x="1544.2" y="117.7" font-size="35">GITT-OCV</text>
<text x="1543.6" y="170.3" font-size="35">pseudo-OCV</text>
<g clip-path="url(#clip-c)">
<polyline points="138,1068 143.6,1066 160,1060 178,1053 192,1050 206,1045 220,1040.4 230,1037 244,1031.6 260,1024 274,1018.6 288,1013.6 300,1008 312,1004.4 326,1000.4 340,996.2 360,990.6 380,985 396,981.2 420,976.6 440,972.6 464,967.4 480,965 504,959.4 526,954.4 546,949.2 566,944 586,939 606,933 626,927 646,920.4 666,915 682,908 696,903 708,901 722,897 736,891 756,884.4 776,877 790,871 804,864.6 818,860.4 836,853.6 850,847.6 860,843.2 867.6,841.4 874,839.6" fill="none" stroke="#0000ff" stroke-width="4.55" stroke-linejoin="round" stroke-linecap="butt"/>
<polyline points="138,1086 143.6,1084.4 160,1079.4 178,1072 192,1069.6 206,1063.6 220,1058.4 232,1055.6 246,1049.6 260,1045 280,1038.6 300,1031.2 324,1024 340,1018.6 354,1013.6 368,1010.6 382,1005.6 396,1002 408,997.2 422,991 436,986.4 452,981 470,976.4 488,971.6 504,967.6 526,965 546,960 566,955 586,950.4 606,945 626,940 646,935 666,929.6 682,925.6 696,920.6 716,915 736,908 756,901.6 776,894.4 796,887.4 810,882.4 826,875.6 846,868 867.6,859.6 874,857.2" fill="none" stroke="#0000ff" stroke-width="4.55" stroke-linejoin="round" stroke-linecap="butt"/>
<polyline points="138,1065.03 143.98,1062.88 149.97,1060.77 155.95,1058.7 161.93,1056.68 167.92,1054.69 173.9,1052.74 179.89,1050.83 185.87,1048.95 191.85,1047.11 197.84,1045.29 203.82,1043.51 209.8,1041.75 215.79,1040.01 221.77,1038.3 227.76,1036.61 233.74,1034.94 239.72,1033.28 245.71,1031.65 251.69,1030.03 257.67,1028.42 263.66,1026.83 269.64,1025.25 275.63,1023.68 281.61,1022.12 287.59,1020.57 293.58,1019.03 299.56,1017.49 305.54,1015.96 311.53,1014.43 317.51,1012.9 323.5,1011.38 329.48,1009.85 335.46,1008.33 341.45,1006.8 347.43,1005.28 353.41,1003.75 359.4,1002.22 365.38,1000.7 371.37,999.17 377.35,997.64 383.33,996.11 389.32,994.58 395.3,993.05 401.28,991.51 407.27,989.97 413.25,988.44 419.24,986.9 425.22,985.35 431.2,983.81 437.19,982.26 443.17,980.71 449.15,979.16 455.14,977.6 461.12,976.04 467.11,974.48 473.09,972.91 479.07,971.34 485.06,969.77 491.04,968.19 497.02,966.61 503.01,965.02 508.99,963.43 514.98,961.84 520.96,960.24 526.94,958.63 532.93,957.02 538.91,955.39 544.89,953.77 550.88,952.13 556.86,950.49 562.85,948.84 568.83,947.17 574.81,945.5 580.8,943.82 586.78,942.13 592.76,940.42 598.75,938.71 604.73,936.98 610.72,935.24 616.7,933.48 622.68,931.72 628.67,929.94 634.65,928.14 640.63,926.33 646.62,924.5 652.6,922.66 658.59,920.8 664.57,918.92 670.55,917.02 676.54,915.11 682.52,913.18 688.5,911.23 694.49,909.26 700.47,907.27 706.46,905.26 712.44,903.23 718.42,901.17 724.41,899.1 730.39,897.02 736.37,894.91 742.36,892.79 748.34,890.65 754.33,888.5 760.31,886.34 766.29,884.16 772.28,881.97 778.26,879.77 784.24,877.57 790.23,875.35 796.21,873.13 802.2,870.9 808.18,868.66 814.16,866.42 820.15,864.18 826.13,861.93 832.11,859.68 838.1,857.44 844.08,855.19 850.07,852.94 856.05,850.69 862.03,848.45 868.02,846.21 874,843.98" fill="none" stroke="#ff0000" stroke-width="4.55" stroke-linejoin="round" stroke-linecap="butt"/>
<polyline points="138,1097.42 143.98,1095.47 149.97,1093.52 155.95,1091.56 161.93,1089.6 167.92,1087.65 173.9,1085.69 179.89,1083.73 185.87,1081.77 191.85,1079.81 197.84,1077.85 203.82,1075.89 209.8,1073.94 215.79,1071.99 221.77,1070.04 227.76,1068.09 233.74,1066.15 239.72,1064.21 245.71,1062.28 251.69,1060.36 257.67,1058.43 263.66,1056.52 269.64,1054.61 275.63,1052.71 281.61,1050.82 287.59,1048.94 293.58,1047.07 299.56,1045.2 305.54,1043.34 311.53,1041.5 317.51,1039.67 323.5,1037.84 329.48,1036.03 335.46,1034.23 341.45,1032.45 347.43,1030.68 353.41,1028.92 359.4,1027.17 365.38,1025.44 371.37,1023.73 377.35,1022.03 383.33,1020.35 389.32,1018.68 395.3,1017.03 401.28,1015.4 407.27,1013.79 413.25,1012.19 419.24,1010.61 425.22,1009.06 431.2,1007.52 437.19,1006 443.17,1004.49 449.15,1002.99 455.14,1001.51 461.12,1000.03 467.11,998.57 473.09,997.1 479.07,995.64 485.06,994.18 491.04,992.73 497.02,991.26 503.01,989.8 508.99,988.33 514.98,986.85 520.96,985.36 526.94,983.86 532.93,982.35 538.91,980.82 544.89,979.28 550.88,977.72 556.86,976.14 562.85,974.54 568.83,972.92 574.81,971.28 580.8,969.62 586.78,967.94 592.76,966.25 598.75,964.53 604.73,962.79 610.72,961.04 616.7,959.26 622.68,957.47 628.67,955.65 634.65,953.82 640.63,951.98 646.62,950.12 652.6,948.24 658.59,946.35 664.57,944.45 670.55,942.53 676.54,940.6 682.52,938.66 688.5,936.71 694.49,934.75 700.47,932.78 706.46,930.8 712.44,928.81 718.42,926.82 724.41,924.81 730.39,922.81 736.37,920.8 742.36,918.78 748.34,916.76 754.33,914.74 760.31,912.71 766.29,910.69 772.28,908.66 778.26,906.63 784.24,904.6 790.23,902.58 796.21,900.55 802.2,898.53 808.18,896.52 814.16,894.5 820.15,892.49 826.13,890.49 832.11,888.5 838.1,886.51 844.08,884.52 850.07,882.55 856.05,880.59 862.03,878.63 868.02,876.69 874,874.76" fill="none" stroke="#ff0000" stroke-width="4.55" stroke-linejoin="round" stroke-linecap="butt"/>
</g>
<line x1="215.5" y1="1205.5" x2="215.5" y2="1221.3" stroke="#000" stroke-width="3.45"/>
<text x="215.5" y="1263.5" font-size="35" text-anchor="middle">2.6</text>
<line x1="360.82" y1="1205.5" x2="360.82" y2="1221.3" stroke="#000" stroke-width="3.45"/>
<text x="360.82" y="1263.5" font-size="35" text-anchor="middle">2.8</text>
<line x1="506.14" y1="1205.5" x2="506.14" y2="1221.3" stroke="#000" stroke-width="3.45"/>
<text x="506.14" y="1263.5" font-size="35" text-anchor="middle">3.0</text>
<line x1="651.46" y1="1205.5" x2="651.46" y2="1221.3" stroke="#000" stroke-width="3.45"/>
<text x="651.46" y="1263.5" font-size="35" text-anchor="middle">3.2</text>
<line x1="796.78" y1="1205.5" x2="796.78" y2="1221.3" stroke="#000" stroke-width="3.45"/>
<text x="796.78" y="1263.5" font-size="35" text-anchor="middle">3.4</text>
<line x1="126.2" y1="1205.5" x2="142" y2="1205.5" stroke="#000" stroke-width="3.45"/>
<text x="111.9" y="1218.55" font-size="35" text-anchor="end">3.8</text>
<line x1="126.2" y1="1091.57" x2="142" y2="1091.57" stroke="#000" stroke-width="3.45"/>
<text x="111.9" y="1104.62" font-size="35" text-anchor="end">3.9</text>
<line x1="126.2" y1="977.65" x2="142" y2="977.65" stroke="#000" stroke-width="3.45"/>
<text x="111.9" y="990.7" font-size="35" text-anchor="end">4.0</text>
<line x1="126.2" y1="863.73" x2="142" y2="863.73" stroke="#000" stroke-width="3.45"/>
<text x="111.9" y="876.78" font-size="35" text-anchor="end">4.1</text>
<line x1="126.2" y1="749.8" x2="142" y2="749.8" stroke="#000" stroke-width="3.45"/>
<text x="111.9" y="762.85" font-size="35" text-anchor="end">4.2</text>
<rect x="142" y="749.8" width="727.25" height="455.7" fill="none" stroke="#000" stroke-width="3.6"/>
<text x="505.62" y="723.8" font-size="42" text-anchor="middle">(c)</text>
<text x="506.77" y="1321" font-size="35" text-anchor="middle">Capacity (mAh cm<tspan font-size="24.5" dy="-13.4" dx="-0.3">−2</tspan><tspan dy="13.4" dx="2.6">)</tspan></text>
<text transform="translate(28.9,977.65) rotate(-90)" font-size="35" text-anchor="middle">Potential (V)</text>
<g clip-path="url(#clip-d)">
<polyline points="1061,906 1067,906 1073,906 1100,903.6 1127,906.4 1155,907 1183,906.2 1211,906.8 1237,909 1265,909.4 1291,909 1319,910.2 1345,913.6 1373,911.6 1400,916.8 1427,915 1454,920.4 1482,929.4 1509,935.4 1537,948.8 1564,947.4 1591,956.4 1618,962 1646,967.6 1673,965.4 1700,976.4 1728,979 1755,981 1782,979.4 1791,982.4 1797,984.4" fill="none" stroke="#0000ff" stroke-width="4.55" stroke-linejoin="round" stroke-linecap="butt"/>
<polyline points="1061,938 1067,937.6 1074,936.6 1101,940 1129,939.8 1155,944.2 1183,946.4 1211,947.6 1237,952.4 1265,953.6 1293,956 1319,960 1347,964 1373,967.6 1401,973 1427,977.6 1455,980 1483,981.4 1509,986.4 1537,990.4 1565,996.4 1592,991.2 1619,996.6 1647,1000 1674,999.2 1701,1001.4 1729,1002 1755,1002 1782,1000.8 1791,1000.6 1797,1000.6" fill="none" stroke="#0000ff" stroke-width="4.55" stroke-linejoin="round" stroke-linecap="butt"/>
<polyline points="1061,896.48 1066.98,896.46 1072.97,896.46 1078.95,896.47 1084.93,896.49 1090.92,896.51 1096.9,896.55 1102.89,896.6 1108.87,896.65 1114.85,896.71 1120.84,896.78 1126.82,896.86 1132.8,896.94 1138.79,897.03 1144.77,897.13 1150.76,897.23 1156.74,897.34 1162.72,897.46 1168.71,897.58 1174.69,897.7 1180.67,897.83 1186.66,897.96 1192.64,898.1 1198.63,898.24 1204.61,898.38 1210.59,898.53 1216.58,898.67 1222.56,898.82 1228.54,898.97 1234.53,899.13 1240.51,899.28 1246.5,899.43 1252.48,899.59 1258.46,899.74 1264.45,899.89 1270.43,900.05 1276.41,900.2 1282.4,900.35 1288.38,900.49 1294.37,900.64 1300.35,900.79 1306.33,900.94 1312.32,901.09 1318.3,901.25 1324.28,901.41 1330.27,901.58 1336.25,901.75 1342.24,901.94 1348.22,902.13 1354.2,902.34 1360.19,902.56 1366.17,902.8 1372.15,903.04 1378.14,903.31 1384.12,903.59 1390.11,903.9 1396.09,904.22 1402.07,904.56 1408.06,904.93 1414.04,905.32 1420.02,905.74 1426.01,906.18 1431.99,906.65 1437.98,907.15 1443.96,907.68 1449.94,908.24 1455.93,908.83 1461.91,909.45 1467.89,910.11 1473.88,910.79 1479.86,911.5 1485.85,912.24 1491.83,913.01 1497.81,913.8 1503.8,914.62 1509.78,915.46 1515.76,916.32 1521.75,917.21 1527.73,918.11 1533.72,919.04 1539.7,919.99 1545.68,920.95 1551.67,921.93 1557.65,922.93 1563.63,923.94 1569.62,924.97 1575.6,926.01 1581.59,927.07 1587.57,928.14 1593.55,929.21 1599.54,930.3 1605.52,931.4 1611.5,932.5 1617.49,933.62 1623.47,934.73 1629.46,935.86 1635.44,936.99 1641.42,938.12 1647.41,939.25 1653.39,940.39 1659.37,941.52 1665.36,942.66 1671.34,943.78 1677.33,944.9 1683.31,946 1689.29,947.09 1695.28,948.17 1701.26,949.22 1707.24,950.25 1713.23,951.25 1719.21,952.23 1725.2,953.17 1731.18,954.08 1737.16,954.95 1743.15,955.79 1749.13,956.58 1755.11,957.32 1761.1,958.02 1767.08,958.66 1773.07,959.25 1779.05,959.79 1785.03,960.26 1791.02,960.68 1797,961.03" fill="none" stroke="#ff0000" stroke-width="4.55" stroke-linejoin="round" stroke-linecap="butt"/>
<polyline points="1061,952.28 1066.98,952.67 1072.97,953.05 1078.95,953.4 1084.93,953.75 1090.92,954.08 1096.9,954.4 1102.89,954.72 1108.87,955.02 1114.85,955.32 1120.84,955.62 1126.82,955.92 1132.8,956.21 1138.79,956.51 1144.77,956.81 1150.76,957.12 1156.74,957.43 1162.72,957.76 1168.71,958.09 1174.69,958.43 1180.67,958.79 1186.66,959.17 1192.64,959.56 1198.63,959.98 1204.61,960.41 1210.59,960.87 1216.58,961.36 1222.56,961.88 1228.54,962.42 1234.53,963 1240.51,963.62 1246.5,964.28 1252.48,964.97 1258.46,965.71 1264.45,966.5 1270.43,967.33 1276.41,968.21 1282.4,969.14 1288.38,970.12 1294.37,971.14 1300.35,972.21 1306.33,973.32 1312.32,974.47 1318.3,975.66 1324.28,976.89 1330.27,978.15 1336.25,979.45 1342.24,980.77 1348.22,982.13 1354.2,983.51 1360.19,984.92 1366.17,986.34 1372.15,987.76 1378.14,989.18 1384.12,990.6 1390.11,992 1396.09,993.38 1402.07,994.73 1408.06,996.05 1414.04,997.33 1420.02,998.56 1426.01,999.74 1431.99,1000.85 1437.98,1001.9 1443.96,1002.9 1449.94,1003.83 1455.93,1004.71 1461.91,1005.54 1467.89,1006.32 1473.88,1007.04 1479.86,1007.72 1485.85,1008.35 1491.83,1008.93 1497.81,1009.48 1503.8,1009.98 1509.78,1010.44 1515.76,1010.87 1521.75,1011.26 1527.73,1011.62 1533.72,1011.95 1539.7,1012.25 1545.68,1012.52 1551.67,1012.76 1557.65,1012.98 1563.63,1013.18 1569.62,1013.36 1575.6,1013.52 1581.59,1013.66 1587.57,1013.79 1593.55,1013.9 1599.54,1014.01 1605.52,1014.1 1611.5,1014.19 1617.49,1014.28 1623.47,1014.35 1629.46,1014.43 1635.44,1014.49 1641.42,1014.56 1647.41,1014.62 1653.39,1014.67 1659.37,1014.73 1665.36,1014.78 1671.34,1014.82 1677.33,1014.87 1683.31,1014.91 1689.29,1014.96 1695.28,1015 1701.26,1015.04 1707.24,1015.08 1713.23,1015.12 1719.21,1015.16 1725.2,1015.21 1731.18,1015.25 1737.16,1015.3 1743.15,1015.34 1749.13,1015.4 1755.11,1015.45 1761.1,1015.51 1767.08,1015.57 1773.07,1015.63 1779.05,1015.7 1785.03,1015.78 1791.02,1015.86 1797,1015.94" fill="none" stroke="#ff0000" stroke-width="4.55" stroke-linejoin="round" stroke-linecap="butt"/>
</g>
<line x1="1065.35" y1="1205.5" x2="1065.35" y2="1221.3" stroke="#000" stroke-width="3.45"/>
<text x="1065.35" y="1263.5" font-size="35" text-anchor="middle">2.6</text>
<line x1="1210.79" y1="1205.5" x2="1210.79" y2="1221.3" stroke="#000" stroke-width="3.45"/>
<text x="1210.79" y="1263.5" font-size="35" text-anchor="middle">2.7</text>
<line x1="1356.23" y1="1205.5" x2="1356.23" y2="1221.3" stroke="#000" stroke-width="3.45"/>
<text x="1356.23" y="1263.5" font-size="35" text-anchor="middle">2.8</text>
<line x1="1501.67" y1="1205.5" x2="1501.67" y2="1221.3" stroke="#000" stroke-width="3.45"/>
<text x="1501.67" y="1263.5" font-size="35" text-anchor="middle">2.9</text>
<line x1="1647.11" y1="1205.5" x2="1647.11" y2="1221.3" stroke="#000" stroke-width="3.45"/>
<text x="1647.11" y="1263.5" font-size="35" text-anchor="middle">3.0</text>
<line x1="1792.55" y1="1205.5" x2="1792.55" y2="1221.3" stroke="#000" stroke-width="3.45"/>
<text x="1792.55" y="1263.5" font-size="35" text-anchor="middle">3.1</text>
<line x1="1049.55" y1="1205.5" x2="1065.35" y2="1205.5" stroke="#000" stroke-width="3.45"/>
<text x="1035.25" y="1218.55" font-size="35" text-anchor="end">0.00</text>
<line x1="1049.55" y1="1091.58" x2="1065.35" y2="1091.58" stroke="#000" stroke-width="3.45"/>
<text x="1035.25" y="1104.62" font-size="35" text-anchor="end">0.05</text>
<line x1="1049.55" y1="977.65" x2="1065.35" y2="977.65" stroke="#000" stroke-width="3.45"/>
<text x="1035.25" y="990.7" font-size="35" text-anchor="end">0.10</text>
<line x1="1049.55" y1="863.73" x2="1065.35" y2="863.73" stroke="#000" stroke-width="3.45"/>
<text x="1035.25" y="876.77" font-size="35" text-anchor="end">0.15</text>
<line x1="1049.55" y1="749.8" x2="1065.35" y2="749.8" stroke="#000" stroke-width="3.45"/>
<text x="1035.25" y="762.85" font-size="35" text-anchor="end">0.20</text>
<rect x="1065.35" y="749.8" width="727.2" height="455.7" fill="none" stroke="#000" stroke-width="3.6"/>
<text x="1428.95" y="723.8" font-size="42" text-anchor="middle">(d)</text>
<text x="1430.1" y="1321" font-size="35" text-anchor="middle">Capacity (mAh cm<tspan font-size="24.5" dy="-13.4" dx="-0.3">−2</tspan><tspan dy="13.4" dx="2.6">)</tspan></text>
<text transform="translate(929.7,977.65) rotate(-90)" font-size="35" text-anchor="middle">Potential (V)</text>
</svg>
</body></html>
